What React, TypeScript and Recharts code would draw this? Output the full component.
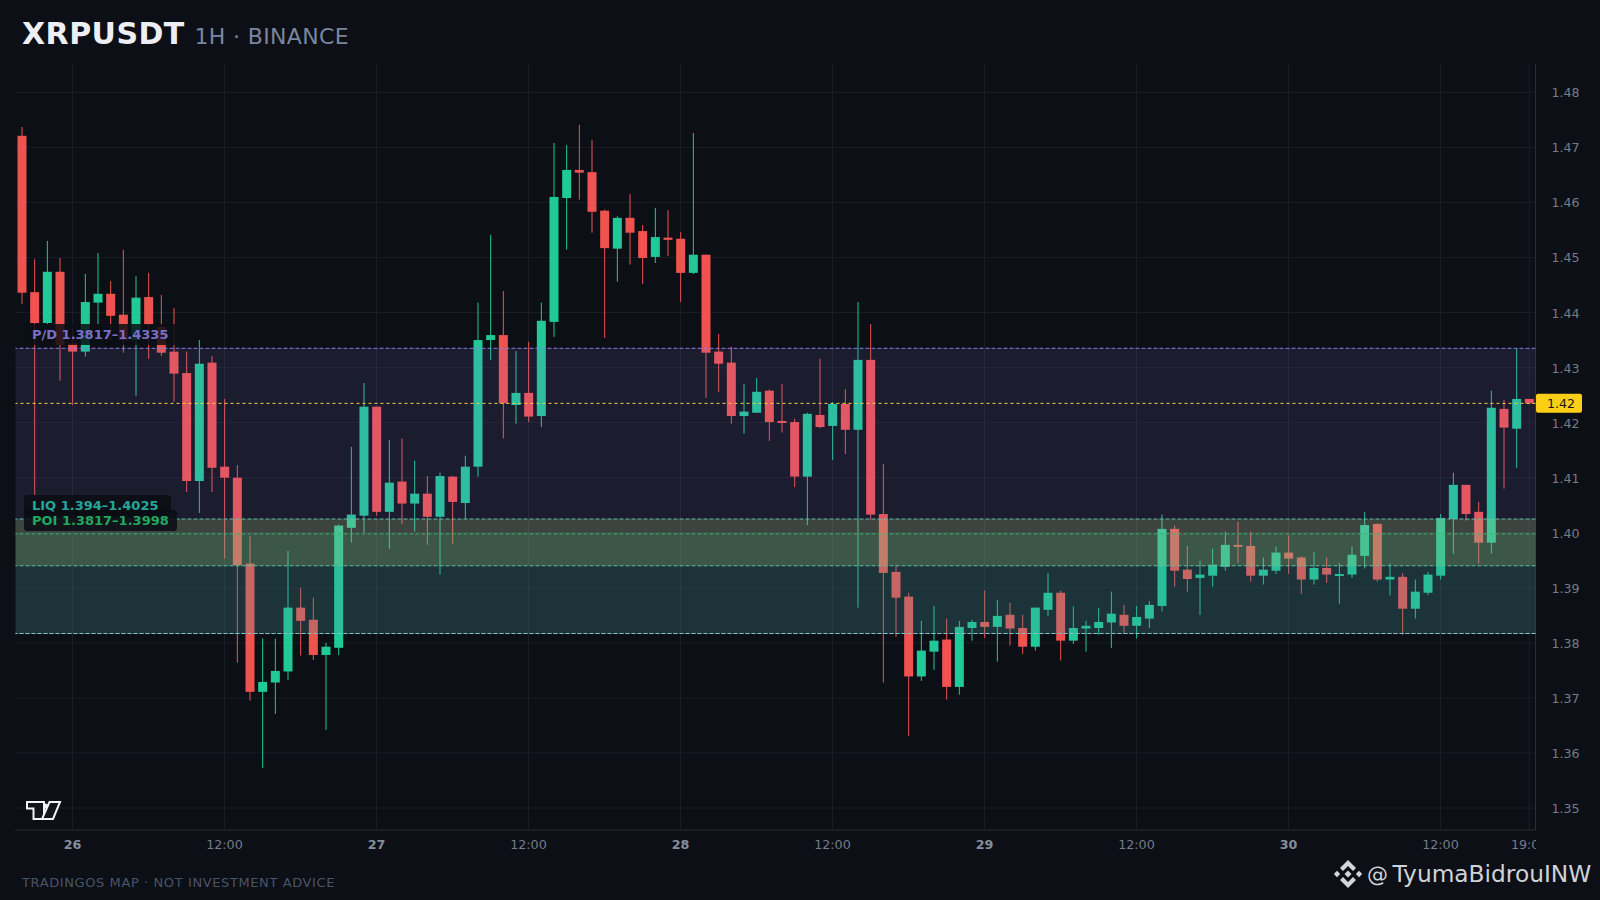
import { Bar, CartesianGrid, ComposedChart, ReferenceArea, ReferenceLine, XAxis, YAxis } from "recharts";

const BG = "#0c0f16";
const UP = "#20c997";
const DOWN = "#ef5350";

// hourly candles, 25th 20:00 -> 30th 19:00
const days = [25, 26, 27, 28, 29, 30];
const times: string[] = [];
days.forEach((day) => {
  for (let h = 0; h < 24; h++) {
    if (day === 25 && h < 20) continue;
    if (day === 30 && h > 19) continue;
    times.push(`${day} ${h}`);
  }
});

const opens = [
  1.4721, 1.4437, 1.4381, 1.4474, 1.4344, 1.4329, 1.4418, 1.4434, 1.4396, 1.435,
  1.4428, 1.4374, 1.4329, 1.429, 1.4094, 1.4309, 1.412, 1.41, 1.3944, 1.3711,
  1.3728, 1.3748, 1.3864, 1.3842, 1.3778, 1.3791, 1.4009, 1.4031, 1.4229, 1.4038,
  1.4093, 1.4053, 1.4071, 1.4029, 1.4102, 1.4054, 1.412, 1.435, 1.4359, 1.4232,
  1.4254, 1.4212, 1.4383, 1.4608, 1.4659, 1.4655, 1.4585, 1.4516, 1.4572, 1.4548,
  1.4501, 1.4536, 1.4534, 1.4472, 1.4505, 1.4329, 1.4309, 1.4212, 1.4218, 1.4258,
  1.4203, 1.4201, 1.4102, 1.4214, 1.4194, 1.4234, 1.4187, 1.4314, 1.4034, 1.3929,
  1.3884, 1.3739, 1.3784, 1.3806, 1.372, 1.3827, 1.3838, 1.3829, 1.3851, 1.3827,
  1.3793, 1.386, 1.3891, 1.3804, 1.3826, 1.3827, 1.3837, 1.3851, 1.3831, 1.3844,
  1.3867, 1.4007, 1.3933, 1.3918, 1.3922, 1.3938, 1.3978, 1.3976, 1.3922, 1.3931,
  1.3964, 1.3955, 1.3915, 1.3936, 1.3924, 1.3924, 1.3958, 1.4016, 1.3915, 1.392,
  1.3862, 1.3891, 1.3922, 1.4025, 1.4087, 1.4038, 1.3982, 1.4225, 1.4189, 1.4243,
];
const highs = [
  1.4737, 1.4497, 1.453, 1.4499, 1.4372, 1.447, 1.4508, 1.4457, 1.4514, 1.4466,
  1.4472, 1.4432, 1.4408, 1.4329, 1.435, 1.4321, 1.4243, 1.4123, 1.3994, 1.3808,
  1.3808, 1.3967, 1.39, 1.3882, 1.38, 1.4015, 1.4156, 1.4272, 1.4229, 1.4169,
  1.4171, 1.4131, 1.4103, 1.4109, 1.4103, 1.414, 1.4418, 1.4541, 1.4439, 1.433,
  1.4347, 1.4418, 1.4708, 1.4704, 1.4741, 1.4713, 1.4587, 1.4575, 1.4615, 1.4559,
  1.459, 1.4586, 1.4546, 1.4726, 1.4505, 1.4361, 1.4338, 1.427, 1.4281, 1.426,
  1.427, 1.4207, 1.4218, 1.4316, 1.4237, 1.4261, 1.4419, 1.4379, 1.4125, 1.394,
  1.3891, 1.384, 1.3867, 1.3844, 1.384, 1.3842, 1.3895, 1.3878, 1.3873, 1.3851,
  1.3864, 1.3927, 1.3895, 1.3866, 1.384, 1.3864, 1.3893, 1.3869, 1.3867, 1.3876,
  1.4033, 1.4013, 1.3976, 1.3949, 1.3971, 1.4002, 1.402, 1.4002, 1.3955, 1.3975,
  1.3995, 1.3957, 1.3965, 1.3955, 1.3945, 1.3975, 1.4038, 1.4017, 1.3944, 1.3927,
  1.3915, 1.3929, 1.4034, 1.4109, 1.4087, 1.4056, 1.4258, 1.4241, 1.4335, 1.4243,
];
const lows = [
  1.4416, 1.4069, 1.4379, 1.4276, 1.4232, 1.432, 1.4378, 1.435, 1.4327, 1.4249,
  1.4316, 1.4321, 1.4238, 1.4074, 1.4036, 1.4074, 1.3953, 1.3764, 1.3695, 1.3573,
  1.3671, 1.3733, 1.3777, 1.3769, 1.3642, 1.3778, 1.3982, 1.4, 1.4031, 1.3971,
  1.4016, 1.4002, 1.3978, 1.3924, 1.398, 1.4025, 1.4102, 1.4314, 1.4171, 1.4198,
  1.4201, 1.4192, 1.4356, 1.4514, 1.4605, 1.4545, 1.4354, 1.4456, 1.4487, 1.4452,
  1.449, 1.4503, 1.4419, 1.447, 1.4245, 1.4256, 1.4198, 1.418, 1.4218, 1.4167,
  1.4182, 1.4083, 1.4014, 1.419, 1.4132, 1.4143, 1.3864, 1.4024, 1.3728, 1.3811,
  1.3631, 1.3731, 1.3751, 1.3697, 1.3706, 1.3804, 1.3809, 1.3766, 1.3795, 1.378,
  1.3786, 1.3849, 1.3768, 1.3798, 1.3784, 1.3815, 1.3791, 1.3817, 1.3808, 1.3827,
  1.3857, 1.3902, 1.3893, 1.3851, 1.3902, 1.3931, 1.3945, 1.3911, 1.3906, 1.3925,
  1.3925, 1.3889, 1.3906, 1.3909, 1.3871, 1.3918, 1.3935, 1.3911, 1.3886, 1.3815,
  1.3844, 1.3887, 1.3915, 1.3962, 1.4022, 1.3944, 1.3962, 1.408, 1.4118, 1.4235,
];
const closes = [
  1.4436, 1.4381, 1.4474, 1.4341, 1.4329, 1.4419, 1.4434, 1.4394, 1.435, 1.4427,
  1.4378, 1.4327, 1.4289, 1.4094, 1.4307, 1.4118, 1.41, 1.3941, 1.3711, 1.3729,
  1.3749, 1.3864, 1.384, 1.3778, 1.3793, 1.4013, 1.4033, 1.4229, 1.4038, 1.4091,
  1.4053, 1.4071, 1.4029, 1.4103, 1.4056, 1.412, 1.435, 1.4359, 1.4235, 1.4254,
  1.4211, 1.4385, 1.461, 1.4659, 1.4654, 1.4583, 1.4517, 1.4572, 1.4545, 1.4499,
  1.4537, 1.4532, 1.4472, 1.4505, 1.4327, 1.4307, 1.4212, 1.422, 1.4256, 1.4201,
  1.42, 1.4102, 1.4216, 1.4192, 1.4234, 1.4187, 1.4314, 1.4033, 1.3927, 1.3882,
  1.3739, 1.3786, 1.3804, 1.372, 1.3829, 1.3838, 1.3829, 1.3849, 1.3826, 1.3793,
  1.3864, 1.3891, 1.3804, 1.3827, 1.3831, 1.3838, 1.3853, 1.3831, 1.3847, 1.3869,
  1.4007, 1.3931, 1.3916, 1.3924, 1.3942, 1.3978, 1.3975, 1.3922, 1.3933, 1.3964,
  1.3953, 1.3915, 1.3936, 1.3924, 1.3925, 1.396, 1.4014, 1.3915, 1.392, 1.3862,
  1.3893, 1.3924, 1.4027, 1.4087, 1.4034, 1.3982, 1.4227, 1.4191, 1.4243, 1.4235,
];

const priceTicks = [1.35, 1.36, 1.37, 1.38, 1.39, 1.4, 1.41, 1.42, 1.43, 1.44, 1.45, 1.46, 1.47, 1.48];
const timeTicks = ["26 0", "26 12", "27 0", "27 12", "28 0", "28 12", "29 0", "29 12", "30 0", "30 12", "30 19"];

const LAST_PRICE = 1.4235;
const PD = [1.3817, 1.4335];
const LIQ = [1.394, 1.4025];
const POI = [1.3817, 1.3998];

const candles = times.map((t, i) => ({
  t,
  open: opens[i],
  high: highs[i],
  low: lows[i],
  close: closes[i],
  up: closes[i] >= opens[i],
}));

const Candle = (props: any) => {
  const { x, y, width, height, payload } = props;
  return <rect x={x} y={y} width={width} height={Math.max(height, 2)} fill={payload.up ? UP : DOWN} />;
};

const TimeTick = (props: any) => {
  const { x, y, payload } = props;
  const [day, hour] = payload.value.split(" ");
  const isDay = hour === "0";
  const label = isDay ? day : `${hour}:00`;
  const text = (
    <text
      x={isDay || hour === "12" ? x : 18}
      y={isDay || hour === "12" ? y : 10}
      dy={4}
      textAnchor="middle"
      fontSize={12.7}
      fontWeight={isDay ? 700 : 400}
      fill={isDay ? "#878d99" : "#757c88"}
      fontFamily="DejaVu Sans"
    >
      {label}
    </text>
  );
  if (isDay || hour === "12") return text;
  // last label gets cut by the edge of the plot
  return (
    <svg x={x - 18} y={y - 10} width={1536 - (x - 18)} height={24}>
      {text}
    </svg>
  );
};

const PriceTick = (props: any) => {
  const { x, y, payload } = props;
  return (
    <text x={x} y={y + 5} fontSize={12.6} fill="#757c88" fontFamily="DejaVu Sans">
      {payload.value.toFixed(2)}
    </text>
  );
};

const PriceTag = (props: any) => {
  const y = props.viewBox.y;
  return (
    <g>
      <rect x={1536} y={y - 9.5} width={46} height={19} rx={2} fill="#fbcf15" />
      <text x={1547} y={y + 4.5} fontSize={12.6} fill="#14161c" fontFamily="DejaVu Sans">
        {LAST_PRICE.toFixed(2)}
      </text>
    </g>
  );
};

export default function App() {
  return (
    <div style={{ position: "absolute", left: 0, top: 0, width: 1600, height: 900, background: BG, overflow: "hidden" }}>
      <ComposedChart width={1600} height={900} data={candles} margin={{ top: 64, right: 0.5, left: 15.5, bottom: 0 }}>
        <CartesianGrid stroke="#191d26" strokeWidth={1} xAxisId="main" syncWithTicks />
        <XAxis
          xAxisId="main"
          dataKey="t"
          ticks={timeTicks}
          interval={0}
          height={70}
          stroke="#2a2e38"
          tickLine={false}
          tickMargin={9}
          tick={<TimeTick />}
        />
        <XAxis xAxisId="wick" dataKey="t" hide />
        <YAxis
          orientation="right"
          width={64}
          domain={[1.34601, 1.48514]}
          allowDataOverflow
          ticks={priceTicks}
          interval={0}
          stroke="#2a2e38"
          tickLine={false}
          tickMargin={10}
          tick={<PriceTick />}
        />
        <Bar xAxisId="wick" dataKey={(d: any) => [d.low, d.high]} barSize={1} shape={Candle} isAnimationActive={false} />
        <Bar
          xAxisId="main"
          dataKey={(d: any) => [Math.min(d.open, d.close), Math.max(d.open, d.close)]}
          barSize={9}
          shape={Candle}
          isAnimationActive={false}
        />
        <ReferenceArea xAxisId="main" y1={PD[0]} y2={PD[1]} fill="rgb(139,115,220)" fillOpacity={0.13} stroke="none" zIndex={700} />
        <ReferenceArea xAxisId="main" y1={POI[0]} y2={POI[1]} fill="rgb(30,190,120)" fillOpacity={0.14} stroke="none" zIndex={701} />
        <ReferenceArea xAxisId="main" y1={LIQ[0]} y2={LIQ[1]} fill="rgb(178,212,127)" fillOpacity={0.22} stroke="none" zIndex={702} />
        <ReferenceLine xAxisId="main" y={PD[1]} stroke="#8b78e6" strokeDasharray="4 2" zIndex={710} />
        <ReferenceLine xAxisId="main" y={PD[0]} stroke="#8b78e6" strokeDasharray="4 2" zIndex={710} />
        <ReferenceLine xAxisId="main" y={POI[1]} stroke="#36b873" strokeDasharray="4 2" zIndex={710} />
        <ReferenceLine xAxisId="main" y={POI[0]} stroke="#7fc4c0" strokeDasharray="4 2" zIndex={710} />
        <ReferenceLine xAxisId="main" y={LIQ[1]} stroke="#5fbfa8" strokeDasharray="4 2" zIndex={710} />
        <ReferenceLine xAxisId="main" y={LIQ[0]} stroke="#5fbfa8" strokeDasharray="4 2" zIndex={710} />
        <ReferenceLine xAxisId="main" y={LAST_PRICE} stroke="#f5d042" strokeDasharray="3 3" label={{ content: PriceTag }} zIndex={710} />
      </ComposedChart>

      <svg width={1600} height={900} style={{ position: "absolute", left: 0, top: 0, pointerEvents: "none" }} fontFamily="DejaVu Sans">
        <text x={22} y={44} fontSize={30} fontWeight={700} letterSpacing={0.45} fill="#eceff4">XRPUSDT</text>
        <text x={194.5} y={43.5} fontSize={22} letterSpacing={0.35} fill="#7a869e">1H · BINANCE</text>

        <rect x={24} y={324} width={153} height={21} rx={3} fill="#0b0e15" fillOpacity={0.85} />
        <text x={32} y={339} fontSize={13} fontWeight={700} fill="#7c6fc8">P/D 1.3817–1.4335</text>
        <rect x={24} y={495} width={147} height={20} rx={3} fill="#0b0e15" fillOpacity={0.88} />
        <rect x={24} y={510} width={153} height={21} rx={3} fill="#0b0e15" fillOpacity={0.88} />
        <text x={32} y={510} fontSize={13} fontWeight={700} fill="#26a69a">LIQ 1.394–1.4025</text>
        <text x={32} y={525} fontSize={13} fontWeight={700} fill="#22a85e">POI 1.3817–1.3998</text>

        {/* tv logo */}
        <g fill="#12151c" stroke="#f2f3f5" strokeWidth={2}>
          <path d="M27 802 H44 V819 H33.5 V808.5 H27 Z" />
          <path d="M49.5 802 H60 L53 819 H42 Z" />
          <circle cx={45.5} cy={806} r={2.4} fill="#f2f3f5" stroke="none" />
        </g>

        <text x={22} y={887} fontSize={13} letterSpacing={0.6} fill="#4a5468">TRADINGOS MAP · NOT INVESTMENT ADVICE</text>

        {/* binance mark */}
        <g fill="#d4d6da">
          <path d="M1348 860 L1356 868 L1353 871 L1348 866 L1343 871 L1340 868 Z" />
          <path d="M1348 888 L1340 880 L1343 877 L1348 882 L1353 877 L1356 880 Z" />
          <path d="M1348 870.500 L1351.500 874 L1348 877.500 L1344.500 874 Z" />
          <path d="M1337 870.800 L1340.200 874 L1337 877.200 L1333.800 874 Z" />
          <path d="M1359 870.800 L1362.200 874 L1359 877.200 L1355.800 874 Z" />
        </g>
        <text x={1367} y={882} fontSize={21} fill="#cfd2d6">@</text>
        <text x={1392.5} y={882} fontSize={23.3} fill="#cfd2d6">TyumaBidrouINW</text>
      </svg>
    </div>
  );
}
